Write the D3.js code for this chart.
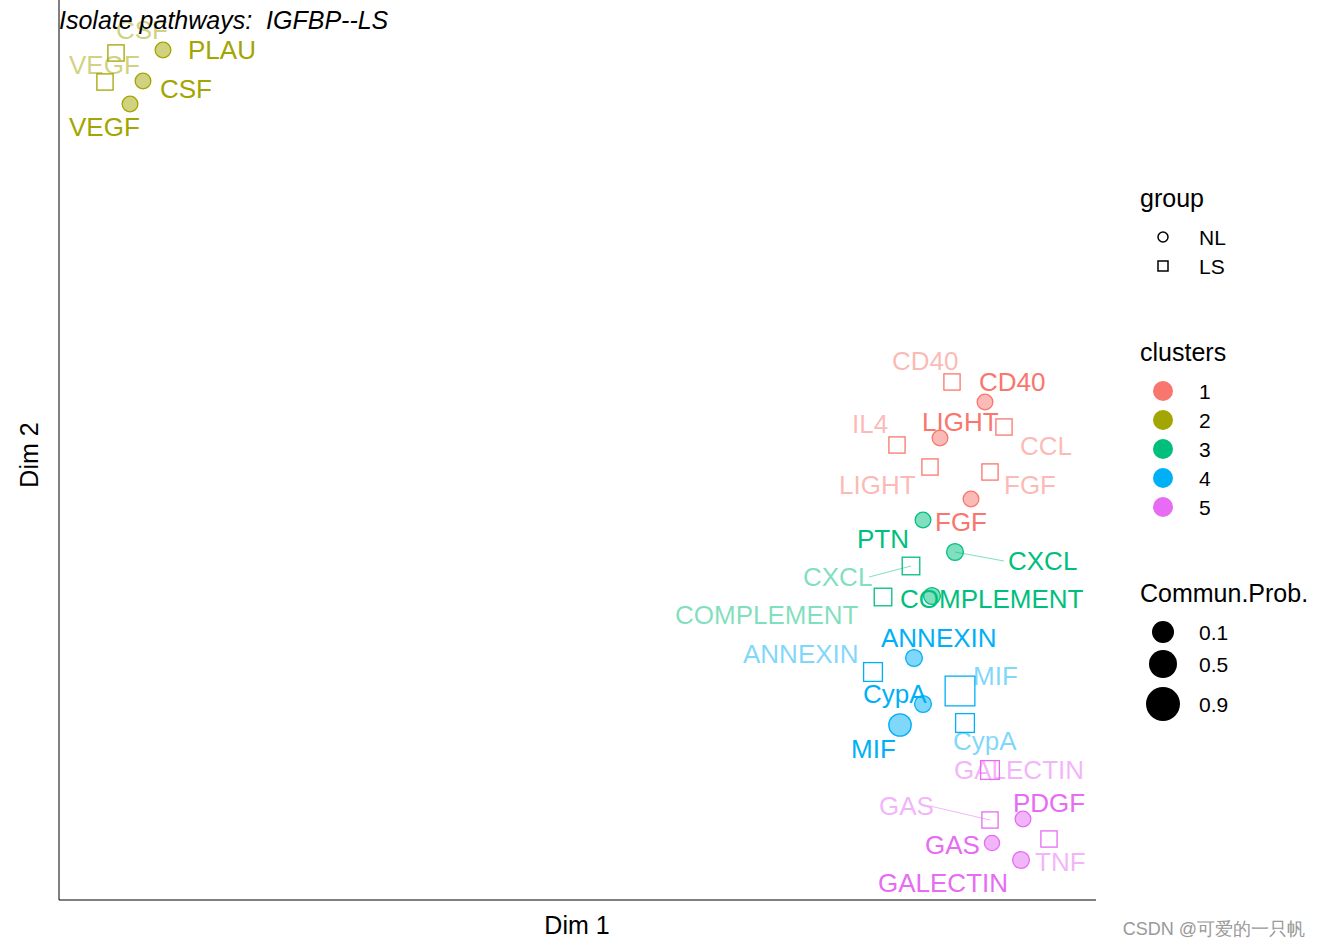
<!DOCTYPE html>
<html>
<head>
<meta charset="utf-8">
<script src="https://d3js.org/d3.v7.min.js"></script>
<style>
  body { margin: 0; background: #fff; }
  text { font-family: "Liberation Sans", Arial, sans-serif; }
</style>
</head>
<body>
<div id="chart"></div>
<script>
// pathway names, dataset group, cluster, probability, Dim1, Dim2, repelled label position
const pathways = ["PLAU","CSF","VEGF","CSF","VEGF",
  "CD40","CD40","CCL","LIGHT","IL4","LIGHT","FGF","FGF",
  "PTN","CXCL","CXCL","COMPLEMENT","COMPLEMENT",
  "ANNEXIN","ANNEXIN","MIF","CypA","MIF","CypA",
  "GALECTIN","GAS","PDGF","TNF","GAS","GALECTIN"];
const groups = ["NL","NL","NL","LS","LS",
  "LS","NL","LS","NL","LS","LS","LS","NL",
  "NL","NL","LS","NL","LS",
  "NL","LS","LS","NL","NL","LS",
  "LS","LS","NL","LS","NL","NL"];
const clusters = [2,2,2,2,2, 1,1,1,1,1,1,1,1, 3,3,3,3,3, 4,4,4,4,4,4, 5,5,5,5,5,5];
const probs = [0.2,0.2,0.2,0.15,0.15,
  0.15,0.2,0.15,0.2,0.15,0.15,0.15,0.2,
  0.2,0.25,0.2,0.25,0.2,
  0.25,0.25,0.95,0.25,0.6,0.25,
  0.25,0.15,0.2,0.15,0.18,0.25];
const dim1 = [104,84,71,57,46, 893,926,945,881,838,871,931,912, 864,896,852,873,824, 855,814,901,864,841,906, 931,931,964,990,933,962];
const dim2 = [850,819,796,847,818, 518,498,473,462,455,433,428,401, 380,348,334,304,303, 242,228,209,196,175,177, 130,80,81,61,57,40];
const labX = [129,101,10,57,10, 833,920,961,863,793,780,945,876, 798,949,744,841,616, 822,684,914,804,792,894, 895,820,954,976,866,819];
const labY = [850,811,773,870,835, 539,518,454,478,476,415,415,378, 361,339,323,301,285, 262,246,224,206,151,159, 130,94,97,38,55,17];

const clusterColors = ["#F8766D","#A3A500","#00BF7D","#00B0F6","#E76BF3"];
const legendProbs = [0.1, 0.5, 0.9];

const W = 1321, H = 947;
const margin = {left: 59, top: 0, right: 225, bottom: 47};
const svg = d3.select("#chart").append("svg").attr("width", W).attr("height", H);

const x = d3.scaleLinear().domain([0, 1037]).range([margin.left, W - margin.right]);
const y = d3.scaleLinear().domain([0, 900]).range([H - margin.bottom, margin.top]);
const r = d3.scaleSqrt().domain([0.1, 0.9]).range([6.5, 13]);
const col = d3.scaleOrdinal().domain([1,2,3,4,5]).range(clusterColors);
const light = c => { const k = d3.color(c); k.opacity = 0.5; return k.toString(); };

// axes: plain lines, no ticks
svg.append("line").attr("x1", x(0)).attr("x2", x(0)).attr("y1", y(900)).attr("y2", y(0)).attr("stroke", "#000");
svg.append("line").attr("x1", x(0)).attr("x2", x(1037)).attr("y1", y(0)).attr("y2", y(0)).attr("stroke", "#000");

const data = pathways.map((p, i) => ({p, g: groups[i], c: clusters[i], pr: probs[i], x: dim1[i], y: dim2[i], lx: labX[i], ly: labY[i]}));

// connector segments where labels are far away
data.forEach(d => {
  if (d.p === "CXCL" || (d.p === "GAS" && d.g === "LS")) {
    const ex = d.lx > d.x ? x(d.lx) - 4 : x(d.lx) + d.p.length * 15 + 6;
    svg.append("line").attr("x1", x(d.x)).attr("y1", y(d.y)).attr("x2", ex).attr("y2", y(d.ly))
      .attr("stroke", light(col(d.c))).attr("stroke-width", 1);
  }
});

data.forEach(d => {
  const c = col(d.c), s = r(d.pr);
  if (d.g === "NL") {
    svg.append("circle").attr("cx", x(d.x)).attr("cy", y(d.y)).attr("r", s)
      .attr("fill", light(c)).attr("stroke", c).attr("stroke-width", 1.3);
  } else {
    const h = s * 1.12;
    svg.append("rect").attr("x", x(d.x) - h).attr("y", y(d.y) - h).attr("width", 2 * h).attr("height", 2 * h)
      .attr("fill", "none").attr("stroke", c).attr("stroke-width", 1.3);
  }
});

data.forEach(d => {
  svg.append("text").attr("x", x(d.lx)).attr("y", y(d.ly) + 2).attr("dominant-baseline", "middle")
    .attr("font-size", 26).attr("fill", d.g === "NL" ? col(d.c) : light(col(d.c))).text(d.p);
});

svg.append("text").attr("x", 59).attr("y", 29).attr("font-size", 25).attr("font-style", "italic")
  .text("Isolate pathways:\u00a0 IGFBP--LS");

svg.append("text").attr("x", 577).attr("y", 934).attr("text-anchor", "middle").attr("font-size", 25).text("Dim 1");
svg.append("text").attr("transform", "translate(38,455) rotate(-90)").attr("text-anchor", "middle").attr("font-size", 25).text("Dim 2");

// legends
const L = 1140, K = 1163, T = 1199;
svg.append("text").attr("x", L).attr("y", 207).attr("font-size", 25).text("group");
svg.append("circle").attr("cx", K).attr("cy", 237).attr("r", 5).attr("fill", "none").attr("stroke", "#000").attr("stroke-width", 1.5);
svg.append("rect").attr("x", K - 5).attr("y", 261).attr("width", 10).attr("height", 10).attr("fill", "none").attr("stroke", "#000").attr("stroke-width", 1.5);
["NL","LS"].forEach((g, i) => svg.append("text").attr("x", T).attr("y", 239 + i * 29).attr("dominant-baseline", "middle").attr("font-size", 21).text(g));

svg.append("text").attr("x", L).attr("y", 361).attr("font-size", 25).text("clusters");
clusterColors.forEach((c, i) => {
  svg.append("circle").attr("cx", K).attr("cy", 391 + i * 29).attr("r", 10).attr("fill", c);
  svg.append("text").attr("x", T).attr("y", 393 + i * 29).attr("dominant-baseline", "middle").attr("font-size", 21).text(i + 1);
});

svg.append("text").attr("x", L).attr("y", 602).attr("font-size", 25).text("Commun.Prob.");
const ly = [632, 664, 704];
legendProbs.forEach((p, i) => {
  svg.append("circle").attr("cx", K).attr("cy", ly[i]).attr("r", [11, 14, 17][i]).attr("fill", "#000");
  svg.append("text").attr("x", T).attr("y", ly[i] + 2).attr("dominant-baseline", "middle").attr("font-size", 21).text(p);
});

svg.append("text").attr("x", 1305).attr("y", 935).attr("text-anchor", "end").attr("font-size", 18)
  .attr("fill", "#999").attr("font-family", "Noto Sans CJK SC").text("CSDN @可爱的一只帆");
</script>
</body>
</html>
